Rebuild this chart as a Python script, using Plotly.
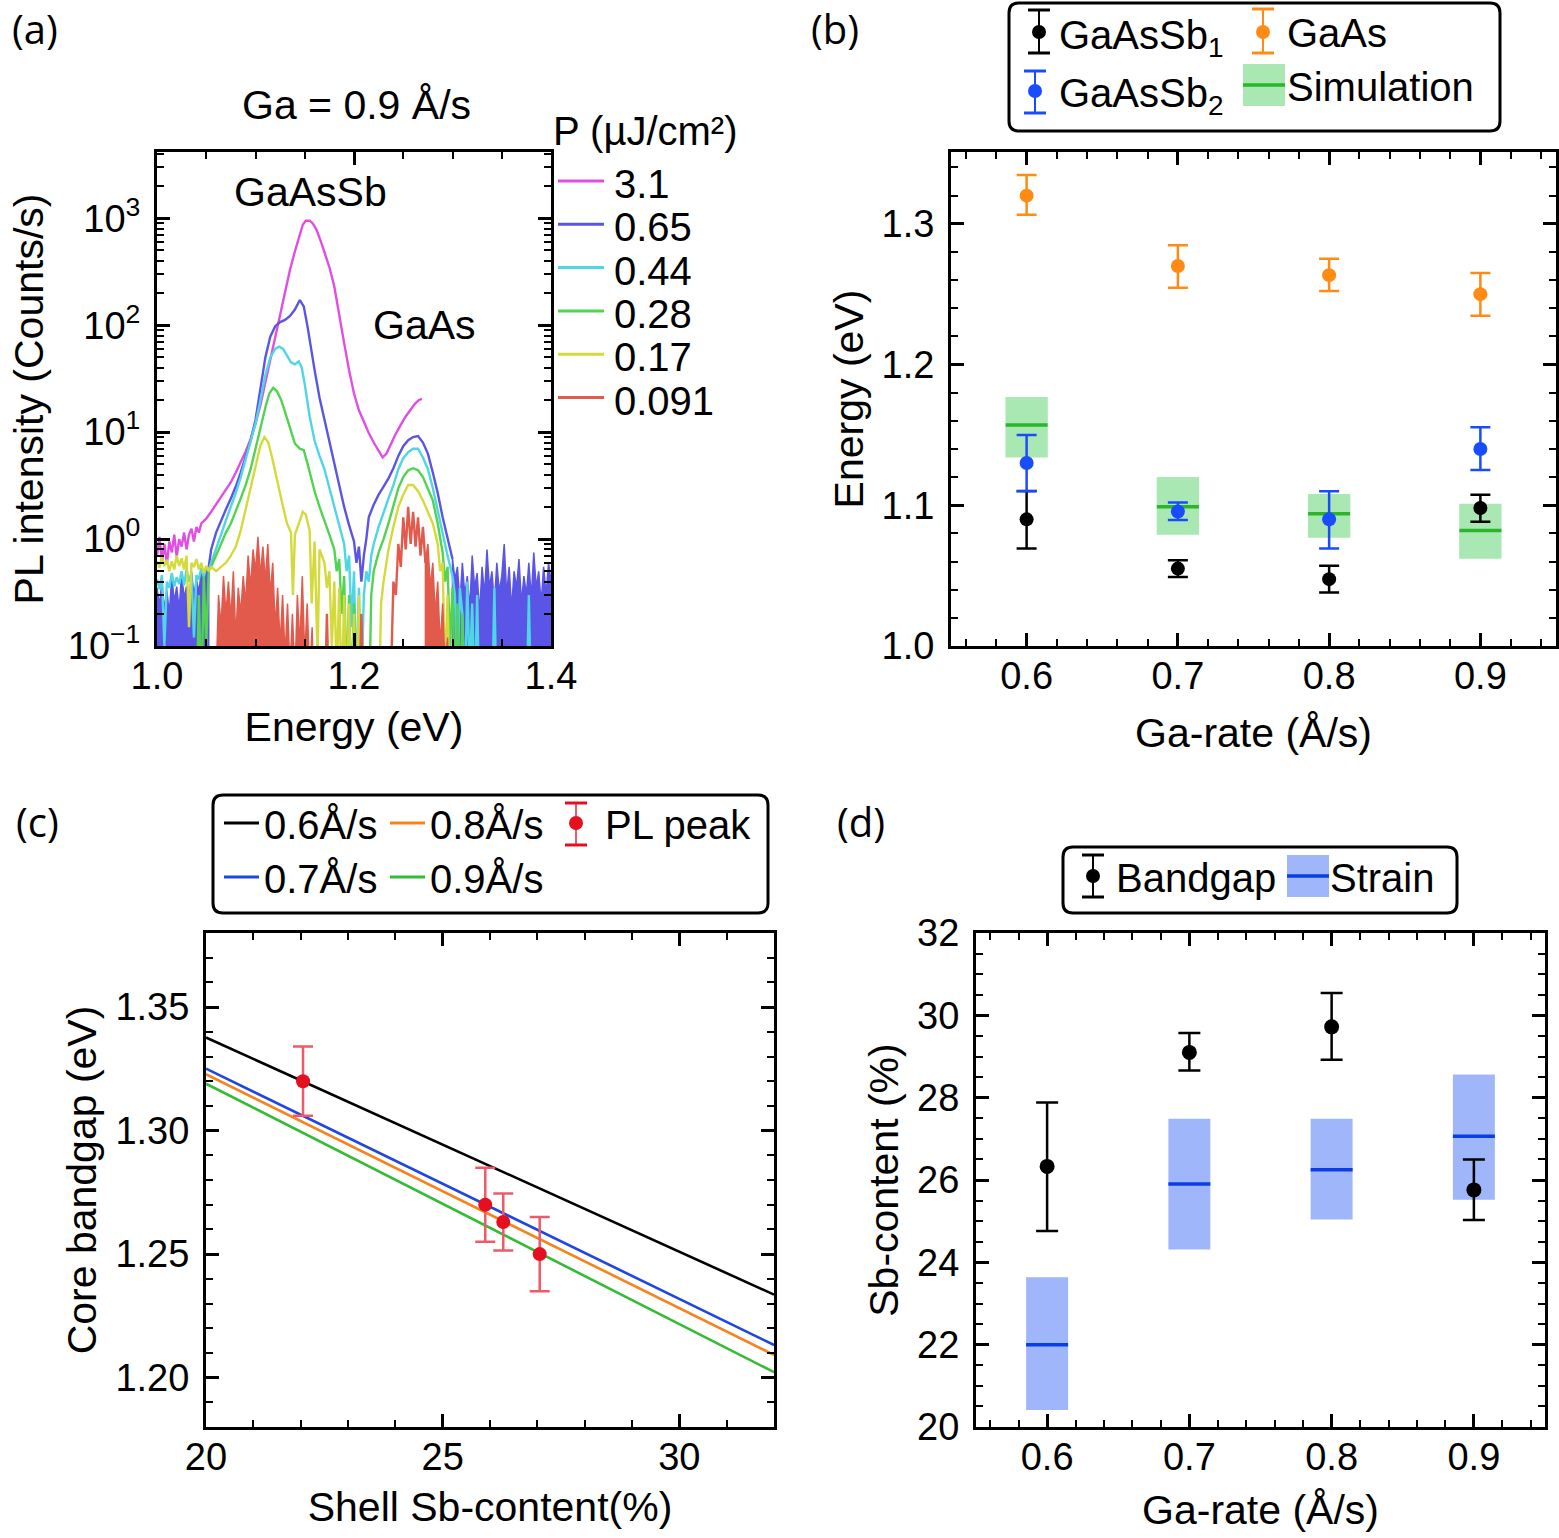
import plotly.graph_objects as go

W, H = 1559, 1538
FONT = "Liberation Sans"

# ---------------- Panel (a): PL spectra, Ga = 0.9 A/s ----------------
power_labels = ["3.1", "0.65", "0.44", "0.28", "0.17", "0.091"]
power_colors = ["#e04fe0", "#5a55e6", "#4fd6e4", "#52d352", "#d4da3c", "#e25a4c"]

# (energy eV, intensity counts/s)
pl_3p1 = [(1.0000,0.70),(1.0025,1.05),(1.0050,0.62),(1.0075,0.90),(1.0100,0.58),(1.0125,0.95),(1.0150,0.75),
          (1.0175,1.10),(1.0200,0.68),(1.0225,1.00),(1.0250,0.85),(1.0275,1.15),(1.0300,0.80),(1.0325,1.10),
          (1.0350,1.25),(1.0375,0.95),(1.0400,1.30),(1.0425,1.15),(1.045,1.40),(1.050,1.55),(1.055,1.80),
          (1.060,2.10),(1.065,2.50),(1.070,2.90),(1.075,3.40),(1.080,4.20),(1.085,5.20),(1.090,6.60),
          (1.095,8.60),(1.100,12.0),(1.105,18.0),(1.110,29.0),(1.115,48.0),(1.120,80.0),(1.125,130),
          (1.130,210),(1.135,330),(1.140,490),(1.145,700),(1.148,870),(1.151,950),(1.155,950),(1.158,900),
          (1.162,780),(1.166,620),(1.170,480),(1.175,350),(1.180,230),(1.185,130),(1.190,68),(1.195,38),
          (1.200,23),(1.205,16),(1.210,12.5),(1.215,9.8),(1.220,8.0),(1.225,6.7),(1.229,5.8),(1.233,6.3),
          (1.237,7.6),(1.242,9.5),(1.247,11.5),(1.252,13.8),(1.257,16.0),(1.262,18.5),(1.266,20.0),(1.269,20.5)]

pl_065 = [(1.0525,0.55),(1.055,0.80),(1.060,1.15),(1.065,1.50),(1.070,1.90),(1.075,2.40),(1.080,3.10),
          (1.085,4.20),(1.090,5.80),(1.095,8.30),(1.100,13.0),(1.105,25.0),(1.110,50.0),(1.115,78.0),
          (1.120,98.0),(1.125,107),(1.130,112),(1.135,122),(1.140,140),(1.145,172),(1.149,150),(1.153,95),
          (1.157,55),(1.160,38),(1.165,21),(1.170,13),(1.175,8.2),(1.180,5.3),(1.185,3.3),(1.190,2.0),
          (1.195,1.35),(1.200,0.95),(1.2025,0.60),(1.2050,0.85),(1.2075,0.40),(1.2100,0.70),(1.2125,1.00),
          (1.215,1.60),(1.220,2.10),(1.225,2.60),(1.230,3.10),(1.235,3.70),(1.240,4.60),(1.245,6.00),
          (1.250,7.40),(1.255,8.40),(1.260,9.00),(1.265,9.20),(1.270,8.00),(1.275,6.30),(1.280,4.20),
          (1.285,2.70),(1.290,1.60),(1.295,1.00),(1.300,0.65)]
# noise floor regions (counts fall to zero -> filled down to the axis)
pl_065_noise_lo = [(1.0000,0.01),(1.0000,0.35),(1.0025,0.24),(1.0050,0.40),(1.0075,0.22),(1.0100,0.33),
                   (1.0125,0.20),(1.0150,0.45),(1.0175,0.26),(1.0200,0.36),(1.0225,0.22),(1.0250,0.48),
                   (1.0275,0.28),(1.0300,0.36),(1.0325,0.24),(1.0350,0.50),(1.0375,0.30),(1.0400,0.42),
                   (1.0425,0.32),(1.0450,0.50),(1.0475,0.38),(1.0500,0.52),(1.0525,0.55),(1.0525,0.01)]
pl_065_noise_hi = [(1.3000,0.01),(1.3000,0.65),(1.3025,0.42),(1.3050,0.55),(1.3075,0.25),(1.3100,0.60),
                   (1.3125,0.30),(1.3150,0.45),(1.3175,0.22),(1.3200,0.70),(1.3225,0.35),(1.3250,0.48),
                   (1.3275,0.20),(1.3300,0.55),(1.3325,0.30),(1.3350,0.80),(1.3375,0.35),(1.3400,0.50),
                   (1.3425,0.25),(1.3450,0.60),(1.3475,0.32),(1.3500,0.45),(1.3525,0.90),(1.3550,0.30),
                   (1.3575,0.55),(1.3600,0.22),(1.3625,0.50),(1.3650,0.35),(1.3675,0.65),(1.3700,0.25),
                   (1.3725,0.45),(1.3750,0.30),(1.3775,0.60),(1.3800,0.28),(1.3825,0.75),(1.3850,0.35),
                   (1.3875,0.50),(1.3900,0.25),(1.3925,0.55),(1.3950,0.30),(1.3975,0.60),(1.4000,0.40),
                   (1.4000,0.01)]

pl_044 = [(1.0000,0.42),(1.0025,0.34),(1.0050,0.46),(1.0075,0.10),(1.0100,0.40),(1.0125,0.35),(1.0150,0.48),
          (1.0175,0.36),(1.0200,0.44),(1.0225,0.38),(1.0250,0.50),(1.0275,0.37),(1.0300,0.52),(1.0325,0.40),
          (1.0350,0.48),(1.0375,0.12),(1.0400,0.46),(1.0425,0.42),(1.0450,0.54),(1.0475,0.44),(1.0500,0.55),
          (1.0525,0.52),(1.055,0.60),(1.060,0.80),(1.065,1.10),(1.070,1.50),(1.075,2.00),(1.080,2.70),
          (1.085,3.80),(1.090,5.50),(1.095,8.00),(1.100,12.0),(1.105,20.0),(1.110,34.0),(1.115,50.0),
          (1.120,60.0),(1.124,63.0),(1.128,60.0),(1.132,52.0),(1.136,45.0),(1.140,43.0),(1.144,46.0),
          (1.147,40.0),(1.150,28.0),(1.155,14.0),(1.160,8.3),(1.165,6.0),(1.170,4.5),(1.175,3.0),(1.180,2.0),
          (1.185,1.3),(1.190,0.90),(1.1925,0.50),(1.1950,0.70),(1.1975,0.15),(1.2000,0.50),(1.2025,0.04),
          (1.2050,0.35),(1.2075,0.04),(1.2100,0.30),(1.2125,0.50),(1.2150,0.40),(1.2175,0.70),(1.220,0.90),
          (1.225,1.30),(1.230,1.80),(1.235,2.40),(1.240,3.20),(1.245,4.50),(1.250,5.70),(1.255,6.50),
          (1.260,7.00),(1.265,7.00),(1.270,5.80),(1.275,4.50),(1.280,3.00),(1.285,1.80),(1.290,1.10),
          (1.295,0.70),(1.300,0.45),(1.3025,0.30),(1.3050,0.04),(1.3075,0.35),(1.3100,0.20),(1.3125,0.03),
          (1.3150,0.40),(1.3175,0.05),(1.3200,0.25),(1.3225,0.03),(1.3250,0.30),(1.3275,0.02),(1.3400,0.02),
          (1.3425,0.35),(1.3450,0.02),(1.3750,0.02),(1.3775,0.30),(1.3800,0.02)]

pl_028 = [(1.0400,0.02),(1.0425,0.30),(1.0450,0.03),(1.0475,0.45),(1.0500,0.10),(1.0525,0.50),(1.055,0.55),
          (1.060,0.70),(1.065,0.90),(1.070,1.15),(1.075,1.40),(1.080,1.80),(1.085,2.40),(1.090,3.20),
          (1.095,4.50),(1.100,7.00),(1.105,11.0),(1.110,17.0),(1.114,23.0),(1.118,26.0),(1.122,24.0),
          (1.126,20.0),(1.130,15.5),(1.135,11.0),(1.140,7.8),(1.145,7.0),(1.149,6.8),(1.153,5.0),(1.157,3.6),
          (1.160,2.8),(1.165,2.0),(1.170,1.5),(1.175,1.1),(1.180,0.80),(1.1825,0.50),(1.1850,0.65),
          (1.1875,0.20),(1.1900,0.45),(1.1925,0.04),(1.1950,0.30),(1.1975,0.03),(1.2000,0.25),(1.2025,0.03),
          (1.2050,0.02),(1.2150,0.02),(1.2175,0.30),(1.220,0.50),(1.225,0.75),(1.230,1.00),(1.235,1.40),
          (1.240,2.00),(1.245,3.00),(1.250,3.80),(1.255,4.40),(1.260,4.60),(1.265,4.40),(1.270,3.80),
          (1.275,3.00),(1.280,2.30),(1.285,1.40),(1.290,0.75),(1.2925,0.40),(1.2950,0.55),(1.2975,0.10),
          (1.3000,0.35),(1.3025,0.03),(1.3050,0.25),(1.3075,0.02),(1.3100,0.20),(1.3125,0.02)]

pl_017 = [(1.0000,0.62),(1.0025,0.54),(1.0050,0.68),(1.0075,0.56),(1.0100,0.64),(1.0125,0.50),(1.0150,0.62),
          (1.0175,0.52),(1.0200,0.70),(1.0225,0.56),(1.0250,0.66),(1.0275,0.52),(1.0300,0.70),(1.0325,0.15),
          (1.0350,0.60),(1.0375,0.55),(1.0400,0.65),(1.0425,0.52),(1.0450,0.60),(1.0475,0.48),(1.0500,0.56),
          (1.0525,0.50),(1.055,0.55),(1.060,0.50),(1.065,0.55),(1.070,0.60),(1.075,0.70),(1.080,0.85),
          (1.085,1.20),(1.090,1.90),(1.095,3.00),(1.100,4.80),(1.105,7.50),(1.109,9.00),(1.113,8.00),
          (1.117,5.70),(1.120,4.20),(1.124,2.90),(1.128,2.00),(1.132,1.40),(1.136,1.15),(1.138,0.30),
          (1.140,1.10),(1.144,1.40),(1.148,1.80),(1.151,1.70),(1.155,1.20),(1.157,0.25),(1.160,0.95),
          (1.163,0.08),(1.165,0.80),(1.170,0.60),(1.1725,0.35),(1.1750,0.50),(1.1775,0.10),(1.1800,0.40),
          (1.1825,0.05),(1.1850,0.35),(1.1875,0.03),(1.1900,0.30),(1.1925,0.03),(1.1950,0.25),(1.1975,0.02),
          (1.2000,0.20),(1.2025,0.02),(1.2050,0.30),(1.2075,0.02),(1.2250,0.02),(1.2275,0.25),(1.2300,0.40),
          (1.2325,0.55),(1.235,0.80),(1.240,1.30),(1.245,2.00),(1.250,2.60),(1.255,3.20),(1.260,3.20),
          (1.265,2.80),(1.270,2.30),(1.275,1.80),(1.280,1.40),(1.285,0.90),(1.2875,0.50),(1.2900,0.60),
          (1.2925,0.05),(1.2950,0.30),(1.2975,0.02)]

pl_0091 = [(1.1700,0.02),(1.1725,0.20),(1.1750,0.02),(1.2050,0.02),(1.2075,0.20),(1.2100,0.02),
           (1.2375,0.05),(1.2400,0.40),(1.2425,0.30),(1.2450,0.90),(1.2475,0.55),(1.2500,1.60),(1.2525,0.80),
           (1.2550,2.00),(1.2575,0.90),(1.2600,1.80),(1.2625,0.85),(1.2650,1.60),(1.2675,0.70),(1.2700,1.30),
           (1.2725,0.60)]
pl_0091_noise_a = [(1.0600,0.01),(1.0600,0.05),(1.0625,0.30),(1.0650,0.15),(1.0675,0.45),(1.0700,0.20),
                   (1.0725,0.40),(1.0750,0.18),(1.0775,0.50),(1.0800,0.12),(1.0825,0.35),(1.0850,0.20),
                   (1.0875,0.45),(1.0900,0.25),(1.0925,0.70),(1.0950,0.35),(1.0975,0.80),(1.1000,0.50),
                   (1.1025,1.05),(1.1050,0.45),(1.1075,0.85),(1.1100,0.40),(1.1125,0.90),(1.1150,0.30),
                   (1.1175,0.60),(1.1200,0.15),(1.1225,0.35),(1.1250,0.10),(1.1275,0.30),(1.1300,0.08),
                   (1.1325,0.25),(1.1350,0.06),(1.1375,0.20),(1.1400,0.05),(1.1425,0.30),(1.1450,0.10),
                   (1.1475,0.45),(1.1500,0.08),(1.1525,0.25),(1.1550,0.05),(1.1575,0.15),(1.1600,0.03),
                   (1.1600,0.01)]
pl_0091_noise_b = [(1.2725,0.01),(1.2725,0.60),(1.2750,0.90),(1.2775,0.35),(1.2800,0.60),(1.2825,0.20),
                   (1.2850,0.40),(1.2875,0.10),(1.2900,0.25),(1.2925,0.06),(1.2950,0.12),(1.2975,0.03),
                   (1.2975,0.01)]

spectra = [pl_3p1, pl_065, pl_044, pl_028, pl_017, pl_0091]
noise_blocks = [[], [pl_065_noise_lo, pl_065_noise_hi], [], [], [], [pl_0091_noise_a, pl_0091_noise_b]]
y_tick_vals = [0.1, 1, 10, 100, 1000]
y_tick_text = ["10<sup>−1</sup>", "10<sup>0</sup>", "10<sup>1</sup>", "10<sup>2</sup>", "10<sup>3</sup>"]
x_tick_vals_a = [1.0, 1.2, 1.4]

# ---------------- Panel (b): energies vs Ga rate ----------------
ga_rate = [0.6, 0.7, 0.8, 0.9]
gaas_E = [1.320, 1.270, 1.2635, 1.250]
gaas_up = [0.0147, 0.0147, 0.0117, 0.0150]
gaas_dn = [0.0136, 0.0154, 0.0113, 0.0153]
sb1_E = [1.090, 1.055, 1.0475, 1.098]
sb1_up = [0.0202, 0.0060, 0.0095, 0.0095]
sb1_dn = [0.0207, 0.0060, 0.0094, 0.0097]
sb2_E = [1.130, 1.0955, 1.090, 1.140]
sb2_up = [0.0200, 0.0065, 0.0200, 0.0155]
sb2_dn = [0.0200, 0.0060, 0.0207, 0.0150]
sim_E = [1.157, 1.099, 1.094, 1.082]
sim_lo = [1.134, 1.079, 1.077, 1.062]
sim_hi = [1.177, 1.120, 1.108, 1.101]

# ---------------- Panel (c): core bandgap vs shell Sb ----------------
sb_range = [20, 32]
gap_06 = [1.3377, 1.2336]
gap_07 = [1.3251, 1.2132]
gap_08 = [1.3228, 1.2092]
gap_09 = [1.3190, 1.2022]
line_labels = ["0.6Å/s", "0.7Å/s", "0.8Å/s", "0.9Å/s"]
pl_sb = [22.05, 25.90, 26.28, 27.05]
pl_peak = [1.320, 1.270, 1.263, 1.250]
pl_err = [0.014, 0.015, 0.0115, 0.015]

# ---------------- Panel (d): Sb content vs Ga rate ----------------
bg_sb = [26.33, 29.10, 29.72, 25.76]
bg_up = [1.55, 0.47, 0.82, 0.74]
bg_dn = [1.57, 0.44, 0.80, 0.73]
strain_sb = [22.00, 25.90, 26.25, 27.06]
strain_lo = [20.41, 24.31, 25.04, 25.52]
strain_hi = [23.64, 27.49, 27.49, 28.56]

BLACK = "black"
ORANGE = "#ff8a14"
BLUE = "#1a4cff"
GREEN_LINE = "#2bb52b"
GREEN_FILL = "#a9e8b3"
C_BLUE = "#1f46e0"
C_ORANGE = "#f5841f"
C_GREEN = "#36bb36"
RED = "#e4101f"
RED_STEM = "#ee5a68"
STRAIN_FILL = "#a0b6fa"
STRAIN_LINE = "#0b3de6"

fig = go.Figure()

# (a)
for lab, col, sp, blocks in zip(power_labels, power_colors, spectra, noise_blocks):
    for blk in blocks:
        fig.add_trace(go.Scatter(x=[p[0] for p in blk], y=[p[1] for p in blk], mode="lines", fill="toself",
                                 fillcolor=col, line=dict(color=col, width=1.5), name=lab, showlegend=False,
                                 xaxis="x", yaxis="y"))
    fig.add_trace(go.Scatter(x=[p[0] for p in sp], y=[p[1] for p in sp], mode="lines", name=lab,
                             line=dict(color=col, width=2.4), showlegend=False, xaxis="x", yaxis="y"))

# (b)
fig.add_trace(go.Bar(x=ga_rate, y=[h - l for h, l in zip(sim_hi, sim_lo)], base=sim_lo, width=0.028,
                     marker=dict(color=GREEN_FILL, line=dict(width=0)), showlegend=False,
                     name="Simulation", xaxis="x2", yaxis="y2"))
fig.add_trace(go.Scatter(x=ga_rate, y=sim_E, mode="markers", name="Simulation", showlegend=False,
                         marker=dict(symbol="line-ew", size=30, line=dict(color=GREEN_LINE, width=3.5)),
                         xaxis="x2", yaxis="y2"))
for name, ys, up, dn, col in [("GaAsSb1", sb1_E, sb1_up, sb1_dn, BLACK),
                              ("GaAsSb2", sb2_E, sb2_up, sb2_dn, BLUE),
                              ("GaAs", gaas_E, gaas_up, gaas_dn, ORANGE)]:
    fig.add_trace(go.Scatter(x=ga_rate, y=ys, mode="markers", name=name, showlegend=False,
                             marker=dict(color=col, size=14),
                             error_y=dict(type="data", array=up, arrayminus=dn, color=col, thickness=2.5, width=10),
                             xaxis="x2", yaxis="y2"))

# (c)
for lab, ys, col in [(line_labels[0], gap_06, BLACK), (line_labels[1], gap_07, C_BLUE),
                     (line_labels[2], gap_08, C_ORANGE), (line_labels[3], gap_09, C_GREEN)]:
    fig.add_trace(go.Scatter(x=sb_range, y=ys, mode="lines", name=lab, showlegend=False,
                             line=dict(color=col, width=2.6), xaxis="x3", yaxis="y3"))
fig.add_trace(go.Scatter(x=pl_sb, y=pl_peak, mode="markers", name="PL peak", showlegend=False,
                         marker=dict(color=RED, size=14),
                         error_y=dict(type="data", array=pl_err, color=RED_STEM, thickness=2.5, width=10),
                         xaxis="x3", yaxis="y3"))

# (d)
fig.add_trace(go.Bar(x=ga_rate, y=[h - l for h, l in zip(strain_hi, strain_lo)], base=strain_lo, width=0.0295,
                     marker=dict(color=STRAIN_FILL, line=dict(width=0)), showlegend=False,
                     name="Strain", xaxis="x4", yaxis="y4"))
fig.add_trace(go.Scatter(x=ga_rate, y=strain_sb, mode="markers", name="Strain", showlegend=False,
                         marker=dict(symbol="line-ew", size=30, line=dict(color=STRAIN_LINE, width=3.5)),
                         xaxis="x4", yaxis="y4"))
fig.add_trace(go.Scatter(x=ga_rate, y=bg_sb, mode="markers", name="Bandgap", showlegend=False,
                         marker=dict(color=BLACK, size=15),
                         error_y=dict(type="data", array=bg_up, arrayminus=bg_dn, color=BLACK, thickness=2.5, width=11),
                         xaxis="x4", yaxis="y4"))


def X(p):
    return p / W


def Y(p):
    return 1 - p / H


def axis(domain, rng, dtick, minor_dtick, fmt=None, title=None, standoff=15, anchor=None, lso=6, **kw):
    d = dict(domain=domain, range=rng, dtick=dtick, showline=True, linewidth=3, linecolor="black",
             mirror="allticks", ticks="inside", ticklen=13, tickwidth=3, tickcolor="black",
             showgrid=False, zeroline=False, ticklabelstandoff=lso, automargin=False,
             tickfont=dict(size=38, family=FONT, color="black"),
             minor=dict(ticks="inside", ticklen=7, tickwidth=2, tickcolor="black", dtick=minor_dtick, showgrid=False),
             title=dict(text=title, font=dict(size=41, family=FONT, color="black"), standoff=standoff),
             anchor=anchor)
    if fmt:
        d["tickformat"] = fmt
    d.update(kw)
    return d


ya = [Y(646), Y(152)]
yc = [Y(1427), Y(933)]
XLSO = -6

fig.update_layout(
    template="none",
    width=W, height=H, margin=dict(l=0, r=0, t=0, b=0, autoexpand=False),
    paper_bgcolor="white", plot_bgcolor="white", barmode="overlay", showlegend=False,
    font=dict(family=FONT, color="black"),
    xaxis=axis([X(157), X(551)], [1.0, 1.4], 0.2, 0.05, ".1f", "Energy (eV)", 17, "y", lso=XLSO,
               tickmode="array", tickvals=x_tick_vals_a),
    yaxis=axis(ya, [-1, 3.62], 1, "D1", None, "PL intensity (Counts/s)", 12, "x",
               type="log", tickmode="array", tickvals=y_tick_vals, ticktext=y_tick_text),
    xaxis2=axis([X(951), X(1556)], [0.55, 0.95], 0.1, 0.02, ".1f", "Ga-rate (Å/s)", 23, "y2", lso=XLSO, tick0=0.6),
    yaxis2=axis(ya, [1.0, 1.351], 0.1, 0.02, ".1f", "Energy (eV)", 6, "x2", tick0=1.0),
    xaxis3=axis([X(206), X(774)], [20, 32], 5, 1, None, "Shell Sb-content(%)", 16, "y3", lso=XLSO, tick0=20),
    yaxis3=axis(yc, [1.18, 1.38], 0.05, 0.01, ".2f", "Core bandgap (eV)", 7, "x3", tick0=1.2),
    xaxis4=axis([X(976), X(1545)], [0.55, 0.95], 0.1, 0.02, ".1f", "Ga-rate (Å/s)", 19, "y4", lso=XLSO, tick0=0.6),
    yaxis4=axis(yc, [20, 32], 2, 0.5, None, "Sb-content (%)", 6, "x4", tick0=20),
)

shapes = []
annotations = []


def text(s, x, y, size=40, xanchor="left", yanchor="middle", family=FONT):
    annotations.append(dict(text=s, x=X(x), y=Y(y), xref="paper", yref="paper", xanchor=xanchor,
                            yanchor=yanchor, showarrow=False,
                            font=dict(size=size, family=family, color="black")))


def hline(x0, x1, y, color, width=3):
    shapes.append(dict(type="line", xref="paper", yref="paper", x0=X(x0), x1=X(x1), y0=Y(y), y1=Y(y),
                       line=dict(color=color, width=width)))


def vline(x, y0, y1, color, width=2):
    shapes.append(dict(type="line", xref="paper", yref="paper", x0=X(x), x1=X(x), y0=Y(y0), y1=Y(y1),
                       line=dict(color=color, width=width)))


def dot(x, y, r, color):
    shapes.append(dict(type="circle", xref="paper", yref="paper", x0=X(x - r), x1=X(x + r),
                       y0=Y(y + r), y1=Y(y - r), fillcolor=color, line=dict(width=0)))


def rect(x0, y0, x1, y1, color):
    shapes.append(dict(type="rect", xref="paper", yref="paper", x0=X(x0), x1=X(x1), y0=Y(y1), y1=Y(y0),
                       fillcolor=color, line=dict(width=0)))


def errbar_icon(x, ytop, ybot, ydot, color, stem=None, capw=11, r=7):
    vline(x, ytop, ybot, stem or color, 2)
    hline(x - capw, x + capw, ytop, color, 3)
    hline(x - capw, x + capw, ybot, color, 3)
    dot(x, ydot, r, color)


def rbox(x0, y0, x1, y1, r=10):
    p = (f"M {X(x0 + r)},{Y(y0)} L {X(x1 - r)},{Y(y0)} Q {X(x1)},{Y(y0)} {X(x1)},{Y(y0 + r)} "
         f"L {X(x1)},{Y(y1 - r)} Q {X(x1)},{Y(y1)} {X(x1 - r)},{Y(y1)} "
         f"L {X(x0 + r)},{Y(y1)} Q {X(x0)},{Y(y1)} {X(x0)},{Y(y1 - r)} "
         f"L {X(x0)},{Y(y0 + r)} Q {X(x0)},{Y(y0)} {X(x0 + r)},{Y(y0)} Z")
    shapes.append(dict(type="path", path=p, xref="paper", yref="paper", line=dict(color="black", width=3)))


# panel labels
text("(a)", 35, 28, 40, "center", family="Open Sans")
text("(b)", 835, 28, 40, "center", family="Open Sans")
text("(c)", 37, 821, 40, "center", family="Open Sans")
text("(d)", 861, 821, 40, "center", family="Open Sans")

# panel (a) texts
text("Ga = 0.9 Å/s", 356, 105, 41, "center")
text("GaAsSb", 310, 192, 41, "center")
text("GaAs", 424, 325, 41, "center")

# legend (a)
text("P (µJ/cm²)", 551, 131, 40)
for i, (lab, col) in enumerate(zip(power_labels, power_colors)):
    yy = 181 + 43.3 * i
    hline(558, 604, yy, col, 3)
    text(lab, 612, yy + 3, 40)

# legend (b)
rbox(1009, 3, 1500, 131)
errbar_icon(1039, 10, 53, 32, BLACK)
text("GaAsSb<sub>1</sub>", 1057, 38, 40)
errbar_icon(1263, 9, 53, 32, ORANGE)
text("GaAs", 1285, 33, 40)
errbar_icon(1035, 71, 113, 91, BLUE)
text("GaAsSb<sub>2</sub>", 1057, 96, 40)
rect(1243, 64, 1285, 106, GREEN_FILL)
hline(1243, 1285, 85, GREEN_LINE, 3.5)
text("Simulation", 1285, 87, 40)

# legend (c)
rbox(213, 795, 768, 913)
hline(224, 259, 823, BLACK)
text(line_labels[0], 262, 825, 40)
hline(390, 425, 823, C_ORANGE)
text(line_labels[2], 428, 825, 40)
errbar_icon(576, 803, 845, 823, RED, stem=RED_STEM)
text("PL peak", 603, 825, 40)
hline(224, 259, 877, C_BLUE)
text(line_labels[1], 262, 879, 40)
hline(390, 425, 877, C_GREEN)
text(line_labels[3], 428, 879, 40)

# legend (d)
rbox(1063, 847, 1457, 913)
errbar_icon(1093, 855, 897, 876, BLACK)
text("Bandgap", 1114, 878, 40)
rect(1287, 855, 1329, 897, STRAIN_FILL)
hline(1287, 1329, 876, STRAIN_LINE, 3.5)
text("Strain", 1328, 878, 40)

fig.update_layout(shapes=shapes, annotations=annotations)
fig.write_html("out.html")
